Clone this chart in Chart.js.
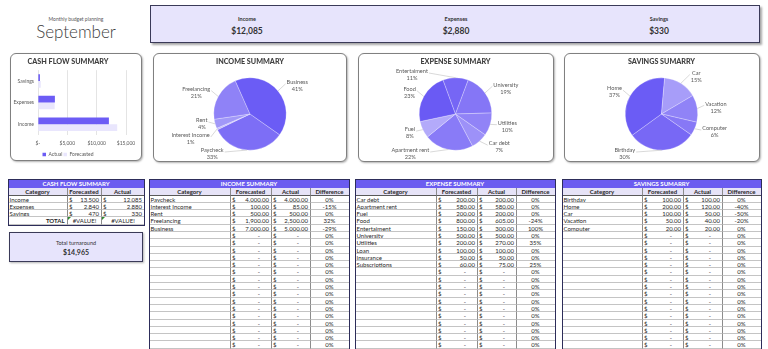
<!DOCTYPE html>
<html>
<head>
<meta charset="utf-8">
<script src="https://cdn.jsdelivr.net/npm/chart.js@4.4.1/dist/chart.umd.min.js"></script>
<style>
  body { margin: 0; width: 768px; height: 349px; overflow: hidden; background: #fff; position: relative;
         font-family: Lato, "Open Sans", sans-serif; color: #262626; }
  .abs { position: absolute; }
  .month { left: 0; width: 152px; text-align: center; }
  .banner { left: 150px; top: 4.5px; width: 610px; height: 38.5px; box-sizing: border-box; background: #e7e4fc;
            border: 1.5px solid #3a3a58; box-shadow: 1.5px 1.5px 2px rgba(0,0,0,0.35); }
  .kpi { width: 100px; text-align: center; font-weight: bold; color: #333; }
  .kpi .lab { font-size: 5.5px; line-height: 6px; margin-top: 10px; }
  .kpi .val { font-size: 8.5px; line-height: 9px; margin-top: 5px; }
  .panel { box-sizing: border-box; border: 1px solid #808080; border-radius: 6px; background: #fff;
           box-shadow: 1px 1px 2px rgba(0,0,0,0.3); overflow: hidden; }
  .panel canvas { position: absolute; left: -1px; top: -1px; }
  .tbl { position: absolute; display: grid; grid-template-rows: 7.5px 8px; grid-auto-rows: 7.3px;
         font-size: 6px; line-height: 7px; box-sizing: content-box;
         border-left: 1.5px solid #2d2d5a; border-right: 1.5px solid #2d2d5a; border-top: 1px solid #2d2d5a; }
  .tbl div { box-sizing: border-box; white-space: nowrap; overflow: hidden; }
  .tbl .t { grid-column: 1 / -1; background: #6b5cf0; color: #fff; font-weight: bold; text-align: center; line-height: 7.5px; }
  .tbl .h { background: #e6e3f7; font-weight: bold; text-align: center; border-right: 0.6px solid #8c8c8c;
            border-bottom: 0.8px solid #595959; line-height: 7.5px; }
  .tbl .c { border-right: 0.6px solid #8c8c8c; border-bottom: 0.5px solid #c4c4c4; padding-left: 1px; }
  .tbl .l { border-right: none; }
  .tbl .m { display: flex; justify-content: space-between; padding: 0 1.5px; }
  .tbl .p { text-align: center; padding-left: 0; }
  .tbl .z { padding-right: 9px; }
  .tbl .tot { font-weight: bold; text-align: right; padding-right: 2px; }
  .tbl .err { text-align: center; position: relative; }
  .tbl .err::before { content: ""; position: absolute; left: 0; top: 0; border-top: 3px solid #2e8b2e; border-right: 3px solid transparent; }
  .turn { left: 9px; top: 232px; width: 134px; height: 30px; box-sizing: border-box; background: #e7e4fc;
          border: 1px solid #3a3a58; box-shadow: 1px 1px 2px rgba(0,0,0,0.3); text-align: center; color: #333; }
</style>
</head>
<body>

<div class="abs month" style="top:16px;font-size:5px;line-height:6px;color:#595959">Monthly budget planning</div>
<div class="abs month" style="top:23px;font-size:17px;line-height:18px;color:#404040;font-weight:300">September</div>

<div class="abs banner">
  <div class="abs kpi" style="left:46px"><div class="lab">Income</div><div class="val" id="kIncome"></div></div>
  <div class="abs kpi" style="left:255px"><div class="lab">Expenses</div><div class="val" id="kExpenses"></div></div>
  <div class="abs kpi" style="left:458px"><div class="lab">Savings</div><div class="val" id="kSavings"></div></div>
</div>

<div class="abs panel" style="left:10px;top:53px;width:132px;height:108px"><canvas id="cashChart" width="132" height="108"></canvas></div>
<div class="abs panel" style="left:153px;top:53px;width:194px;height:109px"><canvas id="incomeChart" width="194" height="109"></canvas></div>
<div class="abs panel" style="left:358px;top:53px;width:196px;height:109px"><canvas id="expenseChart" width="196" height="109"></canvas></div>
<div class="abs panel" style="left:564px;top:53px;width:196px;height:109px"><canvas id="savingsChart" width="196" height="109"></canvas></div>

<div class="tbl" id="cashTable" style="left:7.5px;top:179px;grid-template-columns:59px 34px 42px"></div>
<div class="abs turn">
  <div style="font-size:5.5px;line-height:6px;margin-top:7px">Total turnaround</div>
  <div style="font-size:7px;line-height:8px;margin-top:2px;font-weight:bold" id="kTurn"></div>
</div>
<div class="tbl" id="incomeTable" style="left:148.5px;top:179px;grid-template-columns:81px 41px 39px 38px"></div>
<div class="tbl" id="expenseTable" style="left:354.5px;top:179px;grid-template-columns:81px 41px 39px 38px"></div>
<div class="tbl" id="savingsTable" style="left:561.5px;top:179px;grid-template-columns:80px 41px 39px 38px"></div>

<script>
const incomeCats = ['Paycheck', 'Interest Income', 'Rent', 'Freelancing', 'Business'];
const incomeForecast = [4000, 100, 500, 1900, 7000];
const incomeActual = [4000, 85, 500, 2500, 5000];

const expenseCats = ['Car debt', 'Apartment rent', 'Fuel', 'Food', 'Entertaiment', 'University', 'Utilities', 'Loan', 'Insurance', 'Subscriptions'];
const expenseForecast = [200, 580, 200, 800, 150, 500, 200, 100, 50, 60];
const expenseActual = [200, 580, 200, 605, 300, 500, 270, 100, 50, 75];
const expensePieCount = 7; // the pie only covers the first seven categories

const savingsCats = ['Birthday', 'Home', 'Car', 'Vacation', 'Computer'];
const savingsForecast = [100, 200, 100, 50, 20];
const savingsActual = [100, 120, 50, 40, 20];

const cashCats = ['Income', 'Expenses', 'Savings'];
const cashTicks = [0, 5000, 10000, 15000];

const sum = arr => arr.reduce((a, b) => a + b, 0);
const cashForecast = [sum(incomeForecast), sum(expenseForecast), sum(savingsForecast)];
const cashActual = [sum(incomeActual), sum(expenseActual), sum(savingsActual)];

const usd = v => '$' + v.toLocaleString('en-US');
document.getElementById('kIncome').textContent = usd(cashActual[0]);
document.getElementById('kExpenses').textContent = usd(cashActual[1]);
document.getElementById('kSavings').textContent = usd(cashActual[2]);
document.getElementById('kTurn').textContent = usd(cashActual[0] + cashActual[1]);

Chart.defaults.font.family = 'Lato';
const titleFont = { family: 'Lato', size: 7.2, weight: 900 };

// percentages that add up to 100, like Excel does
function roundPct(vals) {
    const tot = sum(vals);
    const raw = vals.map(v => v / tot * 100);
    const out = raw.map(Math.floor);
    const left = 100 - sum(out);
    const order = raw.map((v, i) => i).sort((a, b) => (raw[b] - out[b]) - (raw[a] - out[a]) || b - a);
    for (let k = 0; k < left; k++) out[order[k]]++;
    return out;
}

const outLabels = {
    id: 'outLabels',
    afterDatasetsDraw(chart, args, opts) {
        const meta = chart.getDatasetMeta(0);
        const ctx = chart.ctx;
        const pcts = roundPct(chart.data.datasets[0].data);
        const lh = 7, half = 7, gap = 15;
        const topY = opts.top, botY = chart.height - opts.bottom;
        ctx.save();
        ctx.font = '5.6px Lato';
        const items = meta.data.map((arc, i) => {
            const p = arc.getProps(['x', 'y', 'startAngle', 'endAngle', 'outerRadius'], true);
            const mid = (p.startAngle + p.endAngle) / 2;
            const dx = Math.cos(mid), dy = Math.sin(mid);
            const lines = [chart.data.labels[i], pcts[i] + '%'];
            const w = Math.max(...lines.map(t => ctx.measureText(t).width));
            return { cx: p.x, cy: p.y, r: p.outerRadius, dx, dy, lines, w,
                     side: dx > 0.05 ? 1 : -1,
                     ax: p.x + (p.outerRadius + 8) * dx, ay: p.y + (p.outerRadius + 8) * dy };
        });
        [1, -1].forEach(side => {
            const list = items.filter(it => it.side === side).sort((a, b) => a.ay - b.ay);
            list.forEach(it => it.ly = Math.min(Math.max(it.ay, topY), botY));
            for (let k = 1; k < list.length; k++) list[k].ly = Math.max(list[k].ly, list[k - 1].ly + gap);
            for (let k = list.length - 1; k >= 0; k--) {
                const lim = k === list.length - 1 ? botY : list[k + 1].ly - gap;
                list[k].ly = Math.min(list[k].ly, lim);
            }
        });
        items.forEach(it => {
            const near = Math.max(0, Math.abs(it.ly - it.cy) - half);
            const clear = Math.sqrt(Math.max(0, (it.r + 6) ** 2 - near * near));
            const off = Math.max(Math.abs(it.ax - it.cx), clear);
            const edgeX = it.cx + it.side * off;
            const tx = edgeX + it.side * it.w / 2;
            ctx.strokeStyle = '#c8c8c8';
            ctx.lineWidth = 0.7;
            ctx.beginPath();
            ctx.moveTo(it.cx + it.r * it.dx, it.cy + it.r * it.dy);
            ctx.lineTo(edgeX - it.side, it.ly - 2);
            ctx.stroke();
            ctx.fillStyle = '#595959';
            ctx.textAlign = 'center';
            ctx.textBaseline = 'middle';
            ctx.fillText(it.lines[0], tx, it.ly - lh / 2);
            ctx.fillText(it.lines[1], tx, it.ly + lh / 2);
        });
        ctx.restore();
    }
};

function makePie(id, title, labels, values, colors, cx) {
    const canvas = document.getElementById(id);
    const W = canvas.width;
    return new Chart(canvas, {
        type: 'pie',
        data: {
            labels: labels,
            datasets: [{ data: values, backgroundColor: colors, borderColor: 'rgba(255,255,255,0.45)', borderWidth: 0.6 }],
        },
        options: {
            responsive: false,
            animation: false,
            rotation: 125,
            layout: { padding: { left: cx - 60, right: W - cx - 60, top: 0, bottom: 11.5 } },
            plugins: {
                legend: { display: false },
                tooltip: { enabled: false },
                title: {
                    display: true, text: title, color: '#404040',
                    font: titleFont, padding: { top: 4, bottom: 11.8 },
                },
                outLabels: { top: 22, bottom: 8 },
            },
        },
        plugins: [outLabels],
    });
}

makePie('incomeChart', 'INCOME SUMMARY', incomeCats, incomeActual,
    ['#7d6ef6', '#c0b8fb', '#a198f8', '#8f82f7', '#6b5cf5'], 97);
makePie('expenseChart', 'EXPENSE SUMMARY', expenseCats.slice(0, expensePieCount), expenseActual.slice(0, expensePieCount),
    ['#9d91f8', '#897bf7', '#b3aafa', '#6a5af4', '#7666f5', '#8576f6', '#9183f7'], 97.5);
makePie('savingsChart', 'SAVINGS SUMARRY', savingsCats, savingsActual,
    ['#7868f5', '#6b5cf5', '#a79df9', '#9083f7', '#8778f6'], 97.5);

new Chart(document.getElementById('cashChart'), {
    type: 'bar',
    data: {
        labels: cashCats,
        datasets: [
            { label: 'Actual', data: cashActual, backgroundColor: '#6c5cf5', categoryPercentage: 0.62, barPercentage: 1 },
            { label: 'Forecasted', data: cashForecast, backgroundColor: '#e9e6fd', categoryPercentage: 0.62, barPercentage: 1 },
        ],
    },
    options: {
        indexAxis: 'y',
        responsive: false,
        animation: false,
        layout: { padding: { left: 0, right: 16, top: 0, bottom: -6 } },
        scales: {
            x: {
                min: 0, max: 15000,
                afterBuildTicks: s => { s.ticks = cashTicks.map(v => ({ value: v })); },
                grid: { color: '#d9d9d9', lineWidth: 0.7, drawTicks: false },
                border: { display: false },
                ticks: {
                    color: '#595959', font: { size: 5 }, padding: 5, maxRotation: 0,
                    callback: v => v === 0 ? '$-' : '$' + v.toLocaleString('en-US'),
                },
                afterFit: s => { s.height = 16; },
            },
            y: {
                reverse: true,
                grid: { display: false, drawTicks: false },
                border: { display: false },
                ticks: { color: '#595959', font: { size: 5 }, padding: 4 },
                afterFit: s => { s.width = 28; },
            },
        },
        plugins: {
            title: {
                display: true, text: 'CASH FLOW SUMMARY', color: '#404040',
                font: titleFont, padding: { top: 4, bottom: 4.5 },
            },
            legend: {
                position: 'bottom',
                labels: { boxWidth: 3.5, boxHeight: 3.5, color: '#595959', font: { size: 5 }, padding: 1 },
            },
            tooltip: { enabled: false },
        },
    },
});

function money(v, dec) {
    if (v === 0) return '<span>$</span><span class="z">-</span>';
    return '<span>$</span><span>' + v.toLocaleString('en-US', { minimumFractionDigits: dec, maximumFractionDigits: dec }) + '</span>';
}

function buildTable(id, title, cats, fc, ac, rows) {
    let h = '<div class="t">' + title + '</div>';
    h += ['Category', 'Forecasted', 'Actual', 'Difference']
        .map((t, i) => '<div class="h' + (i === 3 ? ' l' : '') + '">' + t + '</div>').join('');
    for (let i = 0; i < rows; i++) {
        const f = fc[i] || 0, a = ac[i] || 0;
        const diff = f ? Math.round((a - f) / f * 100) : 0;
        h += '<div class="c">' + (cats[i] || '') + '</div>'
           + '<div class="c m">' + money(f, 2) + '</div>'
           + '<div class="c m">' + money(a, 2) + '</div>'
           + '<div class="c p l">' + diff + '%</div>';
    }
    document.getElementById(id).innerHTML = h;
}

buildTable('incomeTable', 'INCOME SUMMARY', incomeCats, incomeForecast, incomeActual, 22);
buildTable('expenseTable', 'EXPENSE SUMMARY', expenseCats, expenseForecast, expenseActual, 22);
buildTable('savingsTable', 'SAVINGS SUMARRY', savingsCats, savingsForecast, savingsActual, 22);

// cash flow table
let ch = '<div class="t">CASH FLOW SUMMARY</div>'
    + '<div class="h">Category</div><div class="h">Forecasted</div><div class="h l">Actual</div>';
cashCats.forEach((c, i) => {
    ch += '<div class="c">' + c + '</div><div class="c m">' + money(cashForecast[i], 0) + '</div><div class="c m l">' + money(cashActual[i], 0) + '</div>';
});
ch += '<div class="c tot">TOTAL</div><div class="c err">#VALUE!</div><div class="c err l">#VALUE!</div>';
const cashTable = document.getElementById('cashTable');
cashTable.innerHTML = ch;
cashTable.style.borderBottom = '1.5px solid #2d2d5a';
</script>
</body>
</html>
